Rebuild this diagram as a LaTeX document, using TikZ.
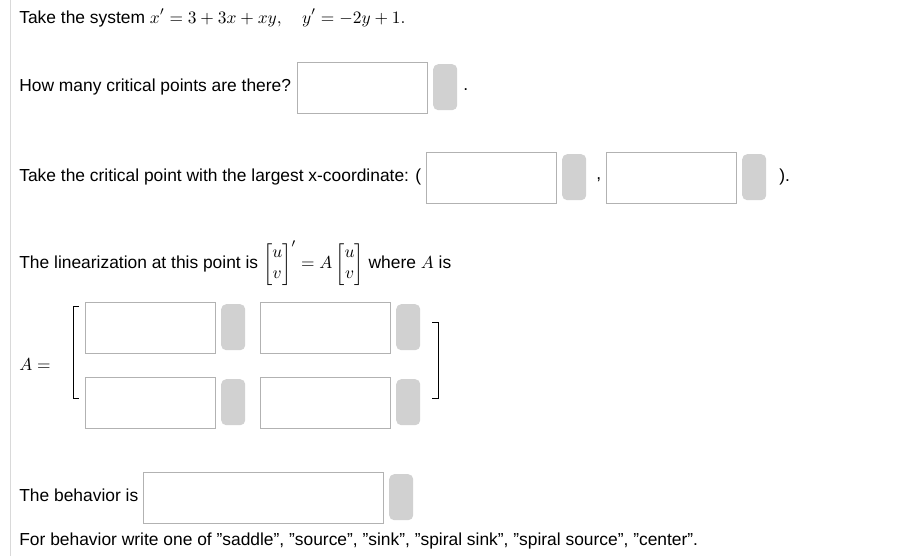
\documentclass[tikz,border=0pt]{standalone}
\usepackage{fontspec}
\setmainfont{Liberation Sans}
\usepackage{amsmath}
\newcommand\myq{\char34\relax}
\begin{document}
\begin{tikzpicture}[x=1pt,y=-1pt,
  txt/.style={anchor=west,inner sep=0pt,scale=1.74,transform shape},
  ansbox/.style={draw=black!30,fill=white,minimum width=130pt,minimum height=51pt,anchor=north west,inner sep=0pt},
  btn/.style={fill=black!18,rounded corners=5pt,minimum width=24pt,minimum height=46pt,anchor=north west,inner sep=0pt}]
\useasboundingbox (0,0) rectangle (901,556);
\fill[white] (0,0) rectangle (901,556);
\draw[black!15] (10,0) -- (10,556);
\node[txt] (l1) at (19,18) {Take the system $\displaystyle x' = 3+3x+xy,\quad y' = -2y+1.$};
\node[txt] (l2) at (19,87) {How many critical points are there?};
\node[ansbox] (b1) at (297,62) {};
\node[btn] (g1) at (433,64) {};
\node[txt] (d1) at (463,90) {.};
\node[txt] (l3) at (19,177) {Take the critical point with the largest x-coordinate: (};
\node[ansbox] (b2) at (426,152) {};
\node[btn] (g2) at (562,154) {};
\node[txt] (c2) at (596,180) {,};
\node[ansbox] (b3) at (606,152) {};
\node[btn] (g3) at (742,154) {};
\node[txt] (e3) at (779,177) {).};
\node[txt] (l4) at (19,263) {The linearization at this point is $\begin{bmatrix}u\\v\end{bmatrix}'=A\begin{bmatrix}u\\v\end{bmatrix}$ where $A$ is};
\node[txt] (aeq) at (19,365) {$A=$};
\draw[line width=0.8pt] (79,306) -- (73,306) -- (73,398) -- (79,398);
\draw[line width=0.8pt] (432,322) -- (438,322) -- (438,398) -- (432,398);
\node[ansbox] (m11) at (85,302) {};
\node[btn] (h11) at (221,304) {};
\node[ansbox] (m12) at (260,302) {};
\node[btn] (h12) at (396,304) {};
\node[ansbox] (m21) at (85,377) {};
\node[btn] (h21) at (221,379) {};
\node[ansbox] (m22) at (260,377) {};
\node[btn] (h22) at (396,379) {};
\node[txt] (l5) at (19,495) {The behavior is};
\node[ansbox,minimum width=240pt] (b4) at (143,472) {};
\node[btn] (g4) at (389,474) {};
\node[txt] (l6) at (19,541) {For behavior write one of \myq saddle\myq, \myq source\myq, \myq sink\myq, \myq spiral sink\myq, \myq spiral source\myq, \myq center\myq.};
\end{tikzpicture}
\end{document}
